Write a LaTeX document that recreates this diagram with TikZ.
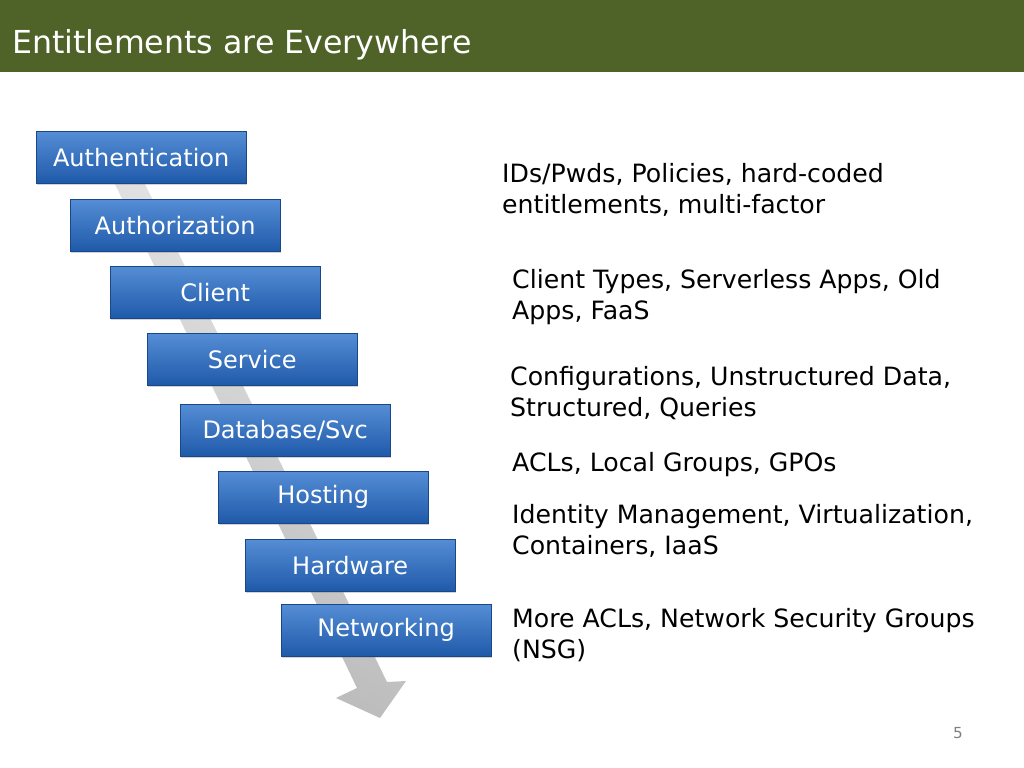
\documentclass[tikz,border=0pt]{standalone}
\usepackage{fontspec}
\setmainfont{DejaVu Sans}
\usetikzlibrary{shadows}
\definecolor{hdr}{RGB}{79,98,40}
\definecolor{bluetop}{RGB}{85,142,213}
\definecolor{bluebot}{RGB}{31,90,170}
\begin{document}
\begin{tikzpicture}[x=0.03cm,y=-0.03cm,
  stepbox/.style={draw=bluebot!80!black,line width=0.3pt,top color=bluetop,bottom color=bluebot,
    minimum width=6.3cm,minimum height=1.56cm,anchor=north west,inner sep=0pt,
    text=white,font=\fontsize{20.5}{24}\selectfont,drop shadow={opacity=0.35,shadow xshift=1pt,shadow yshift=-1.5pt}},
  desc/.style={anchor=north west,align=left,font=\fontsize{21.5}{26.5}\selectfont,text=black,inner sep=0pt}]
\useasboundingbox (0,0) rectangle (1024,768);
\fill[hdr] (0,0) rectangle (1024,72);
\node[anchor=west,text=white,font=\fontsize{27}{32}\selectfont,inner sep=0pt] (title) at (12,45) {Entitlements are Everywhere};
\shade[left color=gray!20,right color=gray!55,shading angle=-26]
  (113,180) -- (143,180) -- (387,682) -- (406,681) -- (380,718) -- (336,698) -- (357,688) -- cycle;
\node[stepbox] (n1) at (36,131) {Authentication};
\node[stepbox] (n2) at (70,199) {Authorization};
\node[stepbox] (n3) at (110,266) {Client};
\node[stepbox] (n4) at (147,333) {Service};
\node[stepbox] (n5) at (180,404) {Database/Svc};
\node[stepbox] (n6) at (218,471) {Hosting};
\node[stepbox] (n7) at (245,539) {Hardware};
\node[stepbox] (n8) at (281,604) {Networking};
\node[desc] (d1) at (502,163) {IDs/Pwds, Policies, hard-coded\\entitlements, multi-factor};
\node[desc] (d2) at (512,269) {Client Types, Serverless Apps, Old\\Apps, FaaS};
\node[desc] (d3) at (510,366) {Configurations, Unstructured Data,\\Structured, Queries};
\node[desc] (d4) at (512,452) {ACLs, Local Groups, GPOs};
\node[desc] (d5) at (512,504) {Identity Management, Virtualization,\\Containers, IaaS};
\node[desc] (d6) at (512,608) {More ACLs, Network Security Groups\\(NSG)};
\node[text=gray,font=\fontsize{13}{15}\selectfont] (pg) at (958,733) {5};
\end{tikzpicture}
\end{document}
